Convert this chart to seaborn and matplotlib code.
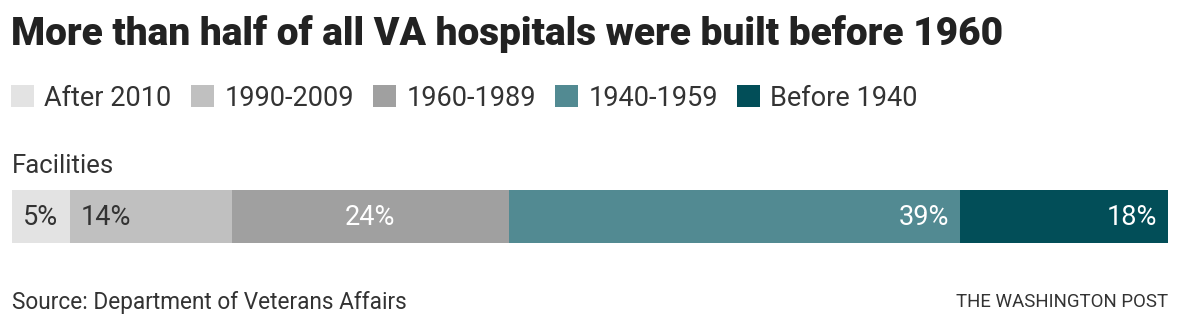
import matplotlib
matplotlib.use("Agg")
import matplotlib.pyplot as plt
from matplotlib.patches import Patch
import numpy as np
import pandas as pd
import seaborn as sns

# Share of VA facilities by construction period (left to right)
periods = ["After 2010", "1990-2009", "1960-1989", "1940-1959", "Before 1940"]
shares = [5, 14, 24, 39, 18]
colors = ["#e3e3e3", "#c0c0c0", "#a0a0a0", "#528a92", "#024e58"]
label_colors = ["#333333", "#333333", "#ffffff", "#ffffff", "#ffffff"]
label_align = ["center", "left", "center", "right", "right"]
row_label = "Facilities"

sns.set_theme(style="white")
plt.rcParams["font.family"] = ["Roboto", "DejaVu Sans"]

W, H = 1180, 330
fig = plt.figure(figsize=(W / 100, H / 100), dpi=100)
fig.patch.set_facecolor("white")

def fx(px):
    return px / W

def fy(py):
    return 1 - py / H

ax = fig.add_axes([fx(12), fy(243), fx(1168) - fx(12), fy(190) - fy(243)])

df = pd.DataFrame({"period": periods, "share": shares})
df["end"] = df["share"].cumsum()
df["start"] = df["end"] - df["share"]
df["row"] = row_label

# Stacked horizontal bar: draw cumulative widths from widest to narrowest
for i in reversed(range(len(df))):
    sns.barplot(data=df.iloc[[i]], x="end", y="row", color=colors[i],
                saturation=1, width=1.0, orient="h", ax=ax, linewidth=0)

ax.set_xlim(0, 100)
ax.set_ylim(0.5, -0.5)
ax.axis("off")

pad = 0.95
for i, row in df.iterrows():
    ha = label_align[i]
    if ha == "center":
        x = (row["start"] + row["end"]) / 2
    elif ha == "left":
        x = row["start"] + pad
    else:
        x = row["end"] - pad
    ax.text(x, 0.02, f"{row['share']}%", ha=ha, va="center",
            color=label_colors[i], fontsize=19.5)

fig.text(fx(11), fy(34), "More than half of all VA hospitals were built before 1960",
         fontsize=28, fontweight="heavy", color="#222222", va="center", ha="left")

handles = [Patch(facecolor=c, edgecolor="none", label=p) for p, c in zip(periods, colors)]
fig.legend(handles=handles, loc="center left", bbox_to_anchor=(fx(-13), fy(98)),
           ncol=5, frameon=False, handlelength=0.85, handleheight=0.85,
           handletextpad=0.37, columnspacing=0.72, labelcolor="#333333",
           prop={"size": 19.5})

fig.text(fx(12), fy(166), row_label, fontsize=18.5,
         color="#333333", va="center", ha="left")
fig.text(fx(12), fy(303), "Source: Department of Veterans Affairs", fontsize=16.3,
         color="#333333", va="center", ha="left")
fig.text(fx(1168), fy(302), "THE WASHINGTON POST", fontsize=13.4,
         color="#333333", va="center", ha="right")

fig.savefig("out.png", dpi=100, facecolor="white")
